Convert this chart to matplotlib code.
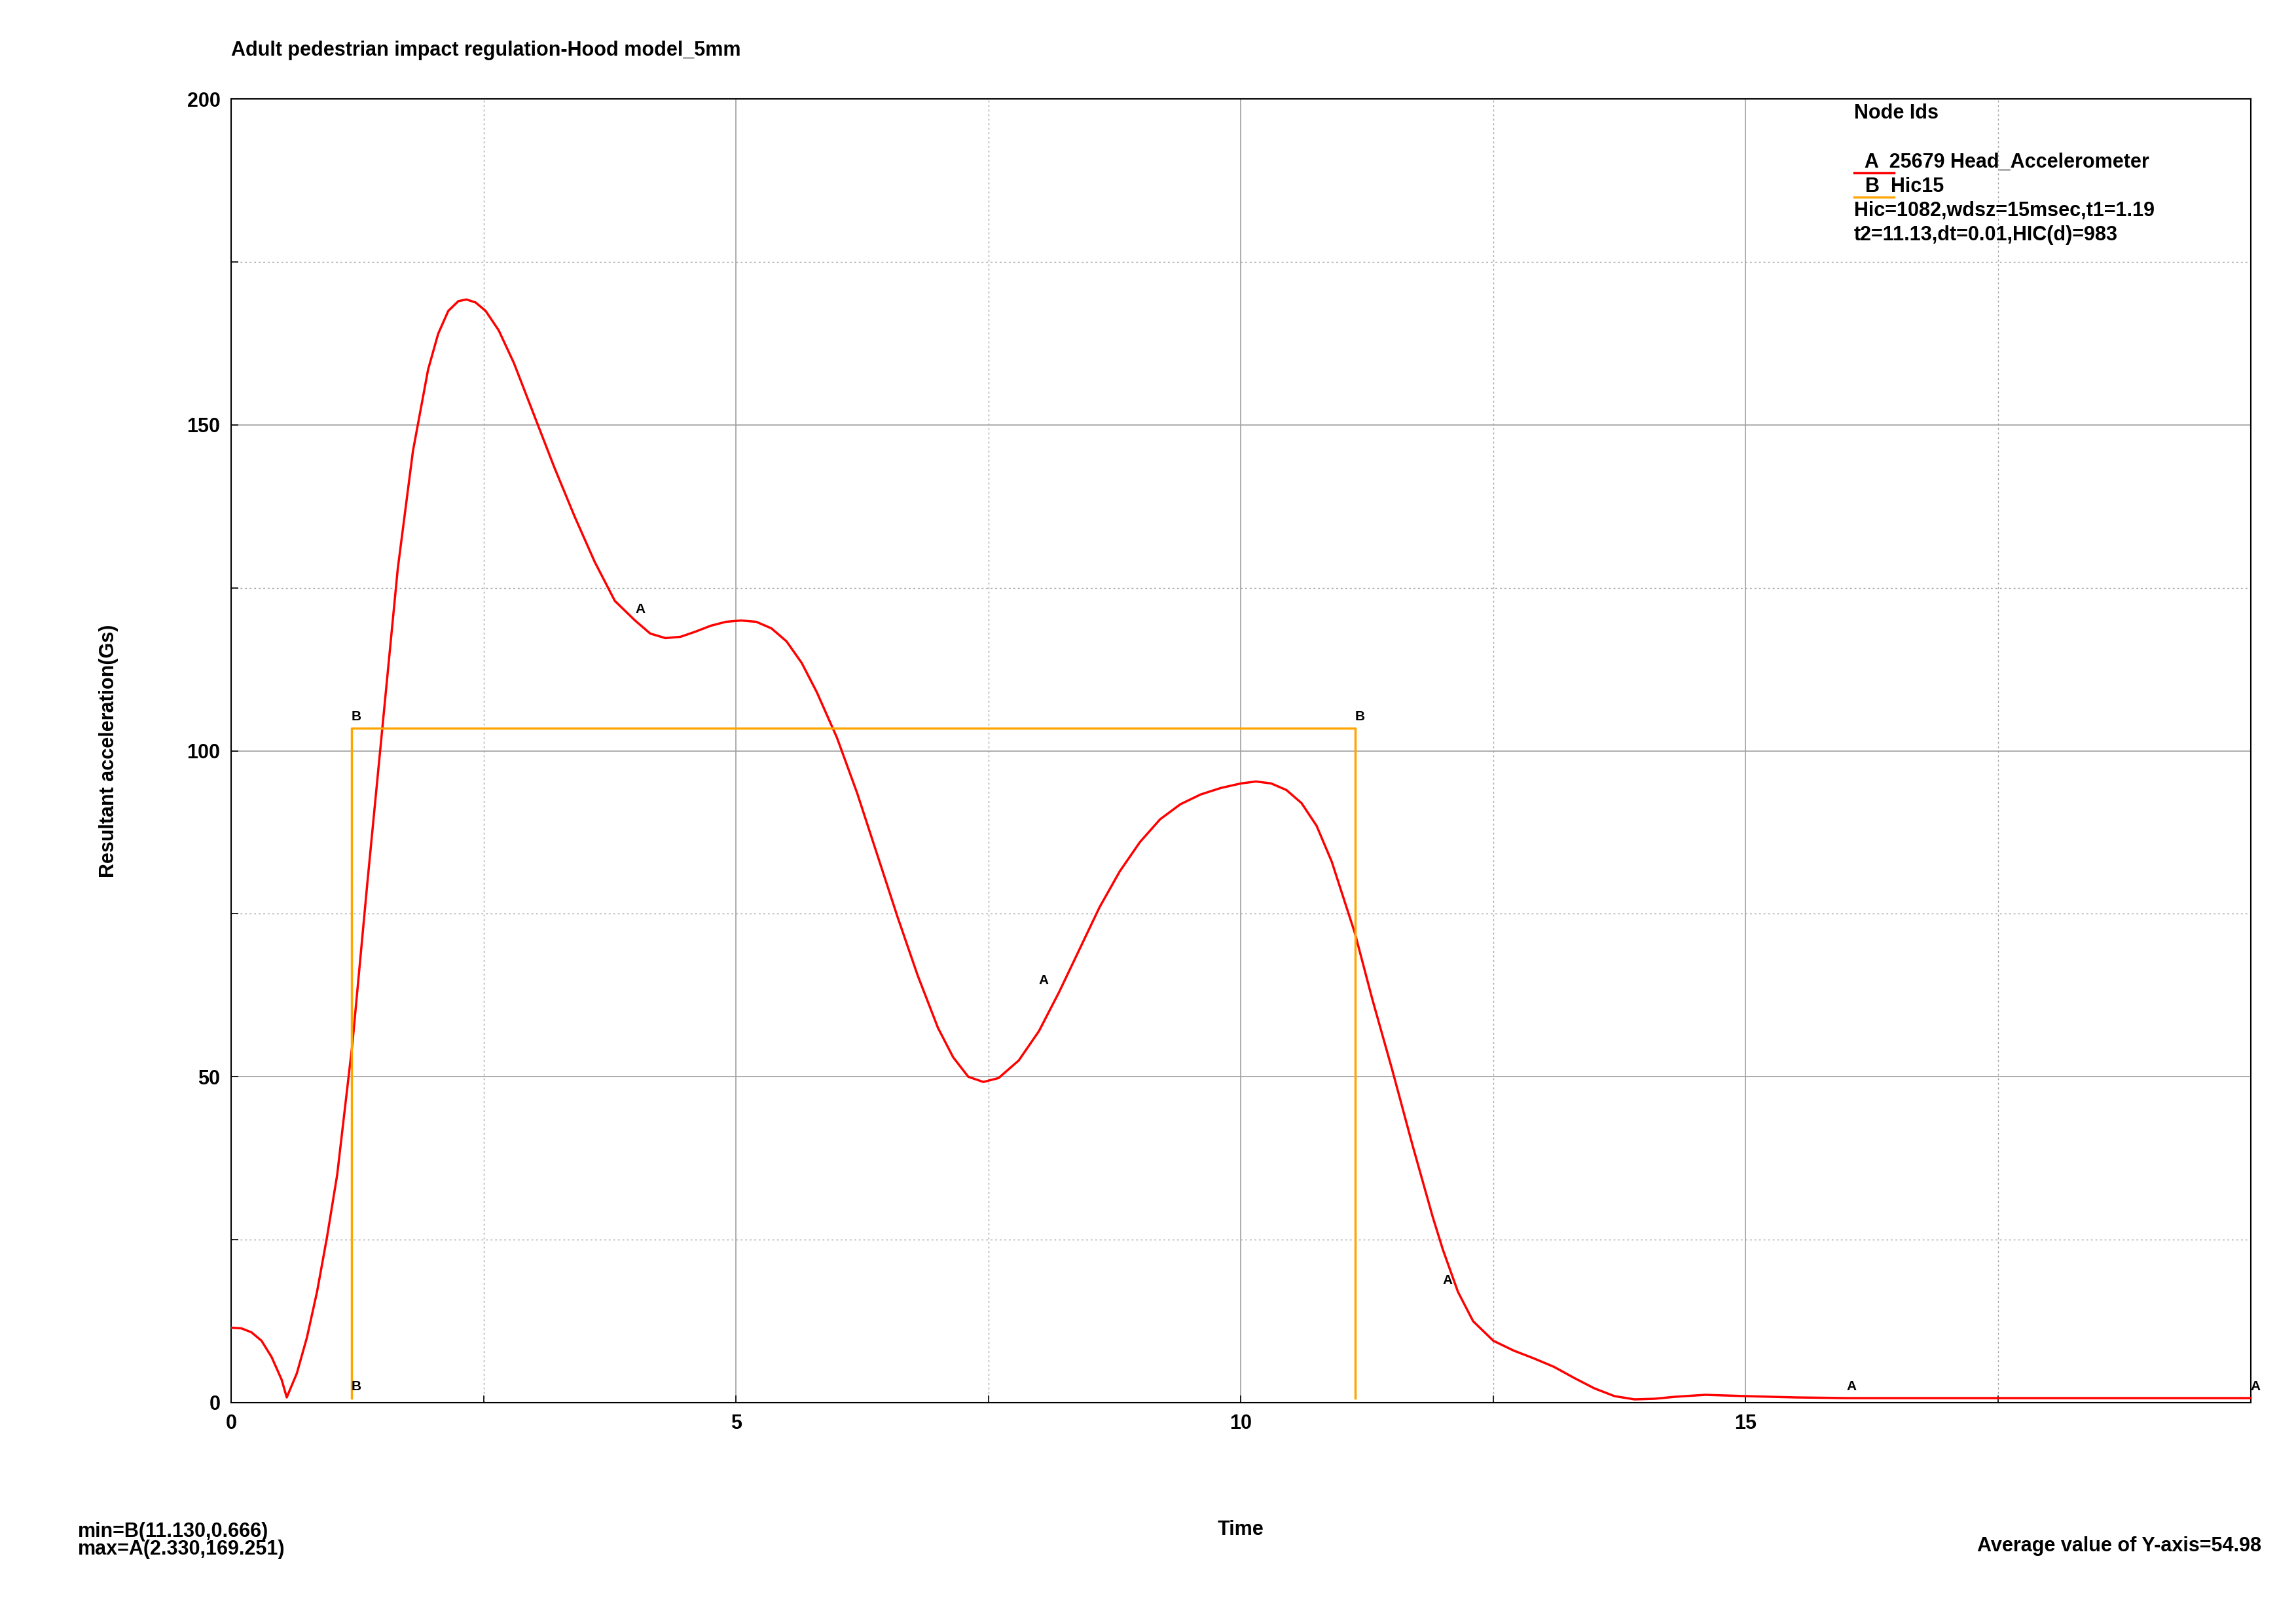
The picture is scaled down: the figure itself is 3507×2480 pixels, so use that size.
import matplotlib
matplotlib.use("Agg")
import matplotlib.pyplot as plt
from matplotlib.ticker import MultipleLocator, FixedFormatter, FixedLocator

# ---------------------------------------------------------------------------
# Data
# ---------------------------------------------------------------------------
t = [0.0, 0.1, 0.2, 0.3, 0.4, 0.5, 0.55, 0.65, 0.75, 0.85, 0.95, 1.05, 1.2,
     1.35, 1.5, 1.65, 1.8, 1.95, 2.05, 2.15, 2.25, 2.33, 2.42, 2.52, 2.65,
     2.8, 3.0, 3.2, 3.4, 3.6, 3.8, 4.0, 4.15, 4.3, 4.45, 4.6, 4.75, 4.9, 5.05,
     5.2, 5.35, 5.5, 5.65, 5.8, 6.0, 6.2, 6.4, 6.6, 6.8, 7.0, 7.15, 7.3, 7.45,
     7.6, 7.8, 8.0, 8.2, 8.4, 8.6, 8.8, 9.0, 9.2, 9.4, 9.6, 9.8, 10.0, 10.15,
     10.3, 10.45, 10.6, 10.75, 10.9, 11.13, 11.3, 11.5, 11.7, 11.9, 12.0,
     12.15, 12.3, 12.5, 12.7, 12.9, 13.1, 13.3, 13.5, 13.7, 13.9, 14.1, 14.3,
     14.6, 15.0, 15.5, 16.0, 17.0, 18.0, 19.0, 20.0]
acc = [11.5, 11.4, 10.8, 9.5, 7.0, 3.5, 0.8, 4.5, 10.0, 17.0, 25.5, 35.0,
       55.0, 80.0, 104.0, 128.0, 146.0, 158.5, 164.0, 167.5, 169.0, 169.25,
       168.8, 167.5, 164.5, 159.5, 151.5, 143.5, 136.0, 129.0, 123.0, 120.0,
       118.0, 117.3, 117.5, 118.3, 119.2, 119.8, 120.0, 119.8, 118.8, 116.8,
       113.5, 109.0, 102.0, 93.5, 84.0, 74.5, 65.5, 57.5, 53.0, 50.0, 49.2,
       49.8, 52.5, 57.0, 63.0, 69.5, 76.0, 81.5, 86.0, 89.5, 91.8, 93.3, 94.3,
       95.0, 95.3, 95.0, 94.0, 92.0, 88.5, 83.0, 72.0, 62.0, 51.0, 39.5, 28.5,
       23.5, 17.0, 12.5, 9.5, 8.0, 6.8, 5.5, 3.8, 2.2, 1.0, 0.5, 0.6, 0.9, 1.2,
       1.0, 0.8, 0.7, 0.7, 0.7, 0.7, 0.7]

hic_t = [1.19, 1.19, 11.13, 11.13]
hic_y = [0.666, 103.5, 103.5, 0.666]

a_label_t = [4.0, 8.0, 12.0, 16.0, 20.0]
a_label_y = [120.0, 63.0, 17.0, 0.7, 0.7]
b_label_t = [1.19, 1.19, 11.13]
b_label_y = [0.666, 103.5, 103.5]

x_ticks = [0, 5, 10, 15]
x_tick_labels = ["0", "5", "10", "15"]

RED = "#ff0000"
ORANGE = "#ffa500"
FONT = "Liberation Sans"
FS = 22

fig = plt.figure(figsize=(35.07, 24.80), dpi=100)
ax = fig.add_axes([0.1007, 0.1363, 0.8795, 0.8027])

ax.plot(t, acc, color=RED, linewidth=2.5, zorder=3)
ax.plot(hic_t, hic_y, color=ORANGE, linewidth=2.5, zorder=3)

for xv, yv in zip(a_label_t, a_label_y):
    ax.text(xv, yv + 0.8, "A", fontsize=15, fontweight="bold", family=FONT,
            ha="left", va="bottom", zorder=4)
for xv, yv in zip(b_label_t, b_label_y):
    ax.text(xv, yv + 0.8, "B", fontsize=15, fontweight="bold", family=FONT,
            ha="left", va="bottom", zorder=4)

ax.set_xlim(0, 20)
ax.set_ylim(0, 200)
ax.xaxis.set_major_locator(FixedLocator(x_ticks))
ax.xaxis.set_major_formatter(FixedFormatter(x_tick_labels))
ax.xaxis.set_minor_locator(MultipleLocator(2.5))
ax.yaxis.set_major_locator(MultipleLocator(50))
ax.yaxis.set_minor_locator(MultipleLocator(25))
ax.grid(which="major", color="#a0a0a0", linewidth=1.2)
ax.grid(which="minor", color="#a0a0a0", linewidth=1.0, linestyle=(0, (2, 3)))
ax.tick_params(which="both", direction="in", length=8, width=1.2, labelsize=FS)
ax.tick_params(which="major", pad=12)
for lab in ax.get_xticklabels() + ax.get_yticklabels():
    lab.set_fontweight("bold")
    lab.set_family(FONT)
for sp in ax.spines.values():
    sp.set_linewidth(1.5)

ax.set_xlabel("Time", fontsize=FS, fontweight="bold", family=FONT, labelpad=95)
ax.set_ylabel("Resultant acceleration(Gs)", fontsize=FS, fontweight="bold",
              family=FONT, labelpad=75)

fig.text(0.1007, 0.963, "Adult pedestrian impact regulation-Hood model_5mm",
         fontsize=FS, fontweight="bold", family=FONT, ha="left", va="bottom")

# legend block
lx = 0.8075
fig.text(lx, 0.924, "Node Ids", fontsize=FS, fontweight="bold", family=FONT,
         va="bottom")
fig.text(lx, 0.894, "  A  25679 Head_Accelerometer", fontsize=FS,
         fontweight="bold", family=FONT, va="bottom")
fig.text(lx, 0.879, "  B  Hic15", fontsize=FS, fontweight="bold", family=FONT,
         va="bottom")
fig.text(lx, 0.864, "Hic=1082,wdsz=15msec,t1=1.19", fontsize=FS,
         fontweight="bold", family=FONT, va="bottom")
fig.text(lx, 0.849, "t2=11.13,dt=0.01,HIC(d)=983", fontsize=FS,
         fontweight="bold", family=FONT, va="bottom")
fig.add_artist(plt.Line2D([lx, lx + 0.0175], [0.8935, 0.8935], color=RED,
                          linewidth=2.5, transform=fig.transFigure))
fig.add_artist(plt.Line2D([lx, lx + 0.0175], [0.8785, 0.8785], color=ORANGE,
                          linewidth=2.5, transform=fig.transFigure))

fig.text(0.034, 0.040, "min=B(11.130,0.666)\nmax=A(2.330,169.251)", fontsize=FS,
         fontweight="bold", family=FONT, ha="left", va="bottom", linespacing=0.85)
fig.text(0.985, 0.042, "Average value of Y-axis=54.98", fontsize=FS,
         fontweight="bold", family=FONT, ha="right", va="bottom")

fig.savefig("out.png", dpi=100)
